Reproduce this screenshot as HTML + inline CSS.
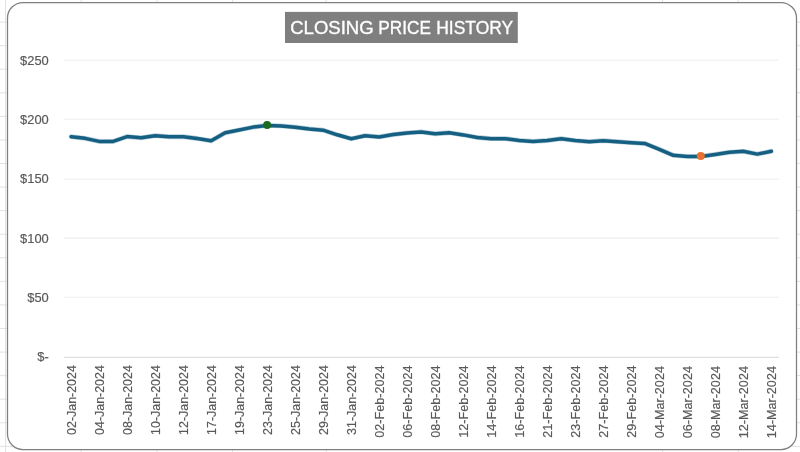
<!DOCTYPE html>
<html><head><meta charset="utf-8"><title>Closing Price History</title>
<style>
html,body{margin:0;padding:0;background:#fff;}
body{width:800px;height:452px;overflow:hidden;}
svg{display:block;will-change:transform;}
.lab{fill:#595959;stroke:#595959;stroke-width:0.18px;}
svg{font-family:"Liberation Sans",Arial,sans-serif;}
</style></head>
<body>
<svg width="800" height="452" viewBox="0 0 800 452">
<line x1="5.6" y1="0" x2="5.6" y2="452" stroke="#e1e1e1" stroke-width="1"/>
<line x1="81.1" y1="0" x2="81.1" y2="452" stroke="#e1e1e1" stroke-width="1"/>
<line x1="157" y1="0" x2="157" y2="452" stroke="#e1e1e1" stroke-width="1"/>
<line x1="232.5" y1="0" x2="232.5" y2="452" stroke="#e1e1e1" stroke-width="1"/>
<line x1="326.2" y1="0" x2="326.2" y2="452" stroke="#e1e1e1" stroke-width="1"/>
<line x1="662.5" y1="0" x2="662.5" y2="452" stroke="#e1e1e1" stroke-width="1"/>
<line x1="738.2" y1="0" x2="738.2" y2="452" stroke="#e1e1e1" stroke-width="1"/>
<line x1="0" y1="22.10" x2="800" y2="22.10" stroke="#e1e1e1" stroke-width="1"/>
<line x1="0" y1="45.67" x2="800" y2="45.67" stroke="#e1e1e1" stroke-width="1"/>
<line x1="0" y1="69.24" x2="800" y2="69.24" stroke="#e1e1e1" stroke-width="1"/>
<line x1="0" y1="92.81" x2="800" y2="92.81" stroke="#e1e1e1" stroke-width="1"/>
<line x1="0" y1="116.38" x2="800" y2="116.38" stroke="#e1e1e1" stroke-width="1"/>
<line x1="0" y1="139.95" x2="800" y2="139.95" stroke="#e1e1e1" stroke-width="1"/>
<line x1="0" y1="163.52" x2="800" y2="163.52" stroke="#e1e1e1" stroke-width="1"/>
<line x1="0" y1="187.09" x2="800" y2="187.09" stroke="#e1e1e1" stroke-width="1"/>
<line x1="0" y1="210.66" x2="800" y2="210.66" stroke="#e1e1e1" stroke-width="1"/>
<line x1="0" y1="234.23" x2="800" y2="234.23" stroke="#e1e1e1" stroke-width="1"/>
<line x1="0" y1="257.80" x2="800" y2="257.80" stroke="#e1e1e1" stroke-width="1"/>
<line x1="0" y1="281.37" x2="800" y2="281.37" stroke="#e1e1e1" stroke-width="1"/>
<line x1="0" y1="304.94" x2="800" y2="304.94" stroke="#e1e1e1" stroke-width="1"/>
<line x1="0" y1="328.51" x2="800" y2="328.51" stroke="#e1e1e1" stroke-width="1"/>
<line x1="0" y1="352.08" x2="800" y2="352.08" stroke="#e1e1e1" stroke-width="1"/>
<line x1="0" y1="375.65" x2="800" y2="375.65" stroke="#e1e1e1" stroke-width="1"/>
<line x1="0" y1="399.22" x2="800" y2="399.22" stroke="#e1e1e1" stroke-width="1"/>
<line x1="0" y1="422.79" x2="800" y2="422.79" stroke="#e1e1e1" stroke-width="1"/>
<line x1="0" y1="446.36" x2="800" y2="446.36" stroke="#e1e1e1" stroke-width="1"/>
<rect x="7.5" y="2.5" width="789" height="447" rx="15.5" ry="15.5" fill="#fff" stroke="#7f7f7f" stroke-width="1.25"/>
<rect x="285" y="11.9" width="232.8" height="31.1" fill="#7f7f7f"/>
<text x="290.20" y="34.2" font-size="19.0" fill="#fff" stroke="#fff" stroke-width="0.35" textLength="83.43" lengthAdjust="spacingAndGlyphs">CLOSING</text>
<text x="378.30" y="34.2" font-size="19.0" fill="#fff" stroke="#fff" stroke-width="0.35" textLength="52.60" lengthAdjust="spacingAndGlyphs">PRICE</text>
<text x="436.13" y="34.2" font-size="19.0" fill="#fff" stroke="#fff" stroke-width="0.35" textLength="77.17" lengthAdjust="spacingAndGlyphs">HISTORY</text>
<line x1="63.8" y1="60.30" x2="778.9" y2="60.30" stroke="#eeeeee" stroke-width="1.1"/>
<text x="48.8" y="64.65" text-anchor="end" font-size="12.9" class="lab">$250</text>
<line x1="63.8" y1="119.30" x2="778.9" y2="119.30" stroke="#eeeeee" stroke-width="1.1"/>
<text x="48.8" y="124.00" text-anchor="end" font-size="12.9" class="lab">$200</text>
<line x1="63.8" y1="179.20" x2="778.9" y2="179.20" stroke="#eeeeee" stroke-width="1.1"/>
<text x="48.8" y="183.35" text-anchor="end" font-size="12.9" class="lab">$150</text>
<line x1="63.8" y1="238.10" x2="778.9" y2="238.10" stroke="#eeeeee" stroke-width="1.1"/>
<text x="48.8" y="242.70" text-anchor="end" font-size="12.9" class="lab">$100</text>
<line x1="63.8" y1="297.20" x2="778.9" y2="297.20" stroke="#eeeeee" stroke-width="1.1"/>
<text x="48.8" y="302.05" text-anchor="end" font-size="12.9" class="lab">$50</text>
<line x1="63.8" y1="357.20" x2="778.9" y2="357.20" stroke="#d9d9d9" stroke-width="1.1"/>
<text x="48.8" y="361.40" text-anchor="end" font-size="12.9" class="lab">$-</text>
<text transform="translate(76.00,365.15) rotate(-90)" x="-69.75" font-size="12.7" class="lab" textLength="69.75" lengthAdjust="spacingAndGlyphs">02-Jan-2024</text>
<text transform="translate(104.01,365.15) rotate(-90)" x="-69.75" font-size="12.7" class="lab" textLength="69.75" lengthAdjust="spacingAndGlyphs">04-Jan-2024</text>
<text transform="translate(132.02,365.15) rotate(-90)" x="-69.75" font-size="12.7" class="lab" textLength="69.75" lengthAdjust="spacingAndGlyphs">08-Jan-2024</text>
<text transform="translate(160.02,365.15) rotate(-90)" x="-69.75" font-size="12.7" class="lab" textLength="69.75" lengthAdjust="spacingAndGlyphs">10-Jan-2024</text>
<text transform="translate(188.03,365.15) rotate(-90)" x="-69.75" font-size="12.7" class="lab" textLength="69.75" lengthAdjust="spacingAndGlyphs">12-Jan-2024</text>
<text transform="translate(216.04,365.15) rotate(-90)" x="-69.75" font-size="12.7" class="lab" textLength="69.75" lengthAdjust="spacingAndGlyphs">17-Jan-2024</text>
<text transform="translate(244.05,365.15) rotate(-90)" x="-69.75" font-size="12.7" class="lab" textLength="69.75" lengthAdjust="spacingAndGlyphs">19-Jan-2024</text>
<text transform="translate(272.06,365.15) rotate(-90)" x="-69.75" font-size="12.7" class="lab" textLength="69.75" lengthAdjust="spacingAndGlyphs">23-Jan-2024</text>
<text transform="translate(300.06,365.15) rotate(-90)" x="-69.75" font-size="12.7" class="lab" textLength="69.75" lengthAdjust="spacingAndGlyphs">25-Jan-2024</text>
<text transform="translate(328.07,365.15) rotate(-90)" x="-69.75" font-size="12.7" class="lab" textLength="69.75" lengthAdjust="spacingAndGlyphs">29-Jan-2024</text>
<text transform="translate(356.08,365.15) rotate(-90)" x="-69.75" font-size="12.7" class="lab" textLength="69.75" lengthAdjust="spacingAndGlyphs">31-Jan-2024</text>
<text transform="translate(384.09,365.4) rotate(-90)" x="-72.30" font-size="12.7" class="lab" textLength="72.3" lengthAdjust="spacingAndGlyphs">02-Feb-2024</text>
<text transform="translate(412.10,365.4) rotate(-90)" x="-72.30" font-size="12.7" class="lab" textLength="72.3" lengthAdjust="spacingAndGlyphs">06-Feb-2024</text>
<text transform="translate(440.10,365.4) rotate(-90)" x="-72.30" font-size="12.7" class="lab" textLength="72.3" lengthAdjust="spacingAndGlyphs">08-Feb-2024</text>
<text transform="translate(468.11,365.4) rotate(-90)" x="-72.30" font-size="12.7" class="lab" textLength="72.3" lengthAdjust="spacingAndGlyphs">12-Feb-2024</text>
<text transform="translate(496.12,365.4) rotate(-90)" x="-72.30" font-size="12.7" class="lab" textLength="72.3" lengthAdjust="spacingAndGlyphs">14-Feb-2024</text>
<text transform="translate(524.13,365.4) rotate(-90)" x="-72.30" font-size="12.7" class="lab" textLength="72.3" lengthAdjust="spacingAndGlyphs">16-Feb-2024</text>
<text transform="translate(552.14,365.4) rotate(-90)" x="-72.30" font-size="12.7" class="lab" textLength="72.3" lengthAdjust="spacingAndGlyphs">21-Feb-2024</text>
<text transform="translate(580.14,365.4) rotate(-90)" x="-72.30" font-size="12.7" class="lab" textLength="72.3" lengthAdjust="spacingAndGlyphs">23-Feb-2024</text>
<text transform="translate(608.15,365.4) rotate(-90)" x="-72.30" font-size="12.7" class="lab" textLength="72.3" lengthAdjust="spacingAndGlyphs">27-Feb-2024</text>
<text transform="translate(636.16,365.4) rotate(-90)" x="-72.30" font-size="12.7" class="lab" textLength="72.3" lengthAdjust="spacingAndGlyphs">29-Feb-2024</text>
<text transform="translate(664.17,366.1) rotate(-90)" x="-72.20" font-size="12.7" class="lab" textLength="72.2" lengthAdjust="spacingAndGlyphs">04-Mar-2024</text>
<text transform="translate(692.18,366.1) rotate(-90)" x="-72.20" font-size="12.7" class="lab" textLength="72.2" lengthAdjust="spacingAndGlyphs">06-Mar-2024</text>
<text transform="translate(720.18,366.1) rotate(-90)" x="-72.20" font-size="12.7" class="lab" textLength="72.2" lengthAdjust="spacingAndGlyphs">08-Mar-2024</text>
<text transform="translate(748.19,366.1) rotate(-90)" x="-72.20" font-size="12.7" class="lab" textLength="72.2" lengthAdjust="spacingAndGlyphs">12-Mar-2024</text>
<text transform="translate(776.20,366.1) rotate(-90)" x="-72.20" font-size="12.7" class="lab" textLength="72.2" lengthAdjust="spacingAndGlyphs">14-Mar-2024</text>
<polyline points="71.10,136.70 85.10,138.35 99.11,141.40 113.11,141.40 127.12,136.60 141.12,137.80 155.12,135.70 169.13,136.75 183.13,136.70 197.14,138.50 211.14,140.85 225.14,132.80 239.15,130.00 253.15,127.10 267.16,125.40 281.16,125.90 295.16,127.20 309.17,128.90 323.17,130.20 337.18,134.80 351.18,138.75 365.18,135.70 379.19,136.90 393.19,134.60 407.20,132.90 421.20,131.90 435.20,133.80 449.21,132.75 463.21,134.90 477.22,137.50 491.22,138.70 505.22,138.70 519.23,140.40 533.23,141.40 547.24,140.50 561.24,138.70 575.24,140.60 589.25,141.70 603.25,140.70 617.26,141.70 631.26,142.70 645.26,143.60 659.27,149.30 673.27,155.30 687.28,156.40 701.28,156.40 715.28,154.40 729.29,152.30 743.29,151.30 757.30,154.10 771.30,151.30" fill="none" stroke="#156082" stroke-opacity="0.3" stroke-width="4.8" stroke-linejoin="round" stroke-linecap="round"/>
<polyline points="71.10,136.70 85.10,138.35 99.11,141.40 113.11,141.40 127.12,136.60 141.12,137.80 155.12,135.70 169.13,136.75 183.13,136.70 197.14,138.50 211.14,140.85 225.14,132.80 239.15,130.00 253.15,127.10 267.16,125.40 281.16,125.90 295.16,127.20 309.17,128.90 323.17,130.20 337.18,134.80 351.18,138.75 365.18,135.70 379.19,136.90 393.19,134.60 407.20,132.90 421.20,131.90 435.20,133.80 449.21,132.75 463.21,134.90 477.22,137.50 491.22,138.70 505.22,138.70 519.23,140.40 533.23,141.40 547.24,140.50 561.24,138.70 575.24,140.60 589.25,141.70 603.25,140.70 617.26,141.70 631.26,142.70 645.26,143.60 659.27,149.30 673.27,155.30 687.28,156.40 701.28,156.40 715.28,154.40 729.29,152.30 743.29,151.30 757.30,154.10 771.30,151.30" fill="none" stroke="#156082" stroke-width="3.5" stroke-linejoin="round" stroke-linecap="round"/>
<circle cx="267.1" cy="124.95" r="4" fill="#196b24"/>
<circle cx="700.75" cy="156.1" r="4" fill="#e97132"/>
</svg>
</body></html>
